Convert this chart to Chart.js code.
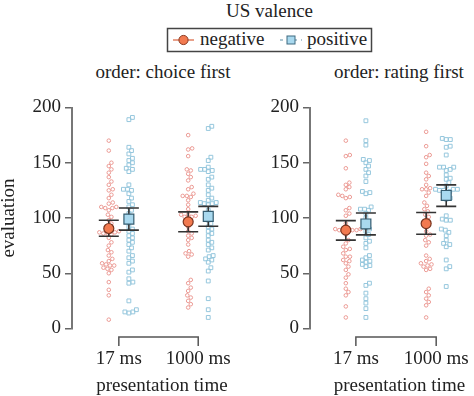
<!DOCTYPE html>
<html>
<head>
<meta charset="utf-8">
<script src="https://cdn.jsdelivr.net/npm/chart.js@4.4.0/dist/chart.umd.min.js"></script>
<style>
  body { margin: 0; background: #fff; width: 474px; height: 396px; overflow: hidden; position: relative; }
  #head { position: absolute; left: 0; top: 0; }
  .panel { position: absolute; top: 90px; width: 260px; height: 306px; }
</style>
</head>
<body>
<svg id="head" width="474" height="90" font-family="Liberation Serif" font-size="19" fill="#222">
  <text x="269.5" y="17" text-anchor="middle">US valence</text>
  <rect x="167.5" y="28.5" width="204" height="23" fill="none" stroke="#444" stroke-width="1.5"/>
  <line x1="173" y1="40" x2="194" y2="40" stroke="#d9603c" stroke-width="1.2"/>
  <circle cx="183.5" cy="40" r="4.6" fill="#f27a50" stroke="#8a3a22" stroke-width="1"/>
  <text x="200" y="45">negative</text>
  <line x1="280" y1="40" x2="302" y2="40" stroke="#5e8fa6" stroke-width="1.2" stroke-dasharray="3,4"/>
  <rect x="287" y="36" width="8" height="8" fill="#a9d9ef" stroke="#3f6a80" stroke-width="1"/>
  <text x="307" y="45">positive</text>
  <text x="163" y="78" text-anchor="middle">order: choice first</text>
  <text x="399" y="78" text-anchor="middle">order: rating first</text>
</svg>
<div class="panel" style="left:0"><canvas id="choiceChart"></canvas></div>
<div class="panel" style="left:237px"><canvas id="ratingChart"></canvas></div>
<script>
const categories = ['17 ms', '1000 ms'];

// order: choice first
const choiceNeg17 = [170, 161, 150, 147, 144, 141, 137, 133, 130, 126, 125, 121, 118, 114, 113, 110, 110, 109, 109, 107, 103, 101, 98, 95, 92, 88, 87, 87, 86, 86, 85, 82, 78, 75, 71, 69, 66, 63, 61, 59, 58, 57, 57, 55, 54, 53, 50, 42, 35, 30, 8];
const choicePos17 = [191, 189, 164, 161, 158, 154, 152, 150, 148, 145, 144, 142, 130, 126, 126, 125, 122, 118, 115, 112, 110, 107, 104, 100, 96, 92, 90, 88, 86, 84, 82, 80, 78, 76, 73, 70, 66, 64, 61, 59, 53, 51, 45, 42, 41, 25, 17, 15, 14, 15];
const choiceNeg1000 = [175, 163, 162, 156, 144, 143, 140, 137, 134, 128, 126, 122, 120, 120, 119, 116, 112, 108, 103, 103, 102, 101, 101, 99, 92, 88, 86, 84, 82, 80, 76, 70, 68, 67, 65, 44, 41, 37, 34, 30, 28, 25, 22, 19];
const choicePos1000 = [183, 181, 155, 152, 146, 144, 144, 143, 142, 137, 135, 130, 127, 125, 121, 118, 116, 114, 114, 113, 113, 112, 107, 103, 98, 95, 92, 90, 88, 86, 84, 80, 78, 76, 73, 71, 66, 65, 63, 62, 60, 55, 52, 43, 27, 17, 10];
const choiceNegMean = [90.5, 96.5];
const choiceNegLo = [83.5, 87.5];
const choiceNegHi = [98, 105.5];
const choicePosMean = [99, 101.5];
const choicePosLo = [89, 92.5];
const choicePosHi = [109, 110.5];

// order: rating first
const ratingNeg17 = [170, 157, 156, 145, 132, 130, 128, 126, 121, 120, 119, 118, 109, 107, 104, 102, 95, 90, 90, 89, 89, 89, 88, 88, 85, 80, 77, 74, 72, 71, 68, 65, 65, 62, 61, 59, 56, 53, 49, 46, 41, 36, 33, 30, 20, 10];
const ratingPos17 = [188, 170, 166, 153, 152, 150, 147, 144, 141, 138, 133, 124, 123, 122, 110, 108, 108, 107, 104, 100, 97, 94, 90, 88, 85, 82, 79, 77, 73, 66, 64, 62, 61, 60, 58, 57, 56, 41, 39, 32, 27, 23, 18, 10];
const ratingNeg1000 = [178, 165, 157, 155, 149, 141, 138, 135, 130, 127, 126, 126, 123, 120, 114, 111, 108, 106, 103, 101, 98, 93, 88, 85, 84, 80, 78, 75, 66, 63, 61, 59, 58, 57, 56, 54, 53, 36, 33, 30, 27, 24, 21, 10];
const ratingPos1000 = [172, 171, 171, 165, 164, 157, 146, 146, 146, 144, 143, 139, 136, 135, 132, 129, 126, 126, 126, 125, 125, 124, 122, 118, 117, 102, 99, 98, 98, 90, 89, 87, 84, 80, 77, 76, 74, 62, 56, 54, 38];
const ratingNegMean = [89, 95];
const ratingNegLo = [80, 85.3];
const ratingNegHi = [97.6, 105];
const ratingPosMean = [94.6, 120.4];
const ratingPosLo = [84.7, 110.5];
const ratingPosHi = [104.5, 130];

const negColor = '#eb9a94';
const posColor = '#96c7dd';
const negFill = '#f27a50';
const posFill = '#a9d9ef';
const serif = 'Liberation Serif';

Chart.defaults.font.family = serif;
Chart.defaults.font.size = 19;
Chart.defaults.color = '#222';

// beeswarm: put each point as close to the centre as it can go without overlapping
function swarm(values, centre, pxPerX) {
  const pxPerY = 1.105, d = 4.3;
  const placed = [];
  return values.slice().sort((a, b) => a - b).map(v => {
    const y = v * pxPerY;
    const near = placed.filter(p => Math.abs(p.y - y) < d);
    const cands = [0];
    near.forEach(p => {
      const dx = Math.sqrt(d * d - (p.y - y) ** 2);
      cands.push(p.x + dx, p.x - dx);
    });
    cands.sort((a, b) => Math.abs(a) - Math.abs(b));
    const x = cands.find(c => near.every(p => (p.x - c) ** 2 + (p.y - y) ** 2 >= d * d - 0.01));
    placed.push({ x: x, y: y });
    return { x: centre + x / pxPerX, y: v };
  });
}

const errorBars = {
  id: 'errorBars',
  beforeDatasetDraw(chart, args) {
    const ds = chart.data.datasets[args.index];
    if (!ds.lo) return;
    const ctx = chart.ctx, xs = chart.scales.x, ys = chart.scales.y;
    ctx.save();
    ctx.strokeStyle = '#333';
    ctx.lineWidth = 1.6;
    ds.data.forEach((p, i) => {
      const x = xs.getPixelForValue(p.x);
      const lo = ys.getPixelForValue(ds.lo[i]);
      const hi = ys.getPixelForValue(ds.hi[i]);
      ctx.beginPath();
      ctx.moveTo(x, lo); ctx.lineTo(x, hi);
      ctx.moveTo(x - 10, lo); ctx.lineTo(x + 10, lo);
      ctx.moveTo(x - 10, hi); ctx.lineTo(x + 10, hi);
      ctx.stroke();
    });
    ctx.restore();
  }
};

const bracket = {
  id: 'bracket',
  afterDraw(chart) {
    const ctx = chart.ctx, xs = chart.scales.x;
    const y0 = chart.chartArea.bottom + 8.5;
    const x0 = xs.getPixelForValue(0), x1 = xs.getPixelForValue(1);
    ctx.save();
    ctx.strokeStyle = '#555';
    ctx.lineWidth = 1.5;
    ctx.beginPath();
    ctx.moveTo(x0, y0 + 9); ctx.lineTo(x0, y0); ctx.lineTo(x1, y0); ctx.lineTo(x1, y0 + 9);
    ctx.stroke();
    ctx.restore();
  }
};

function makePanel(id, neg, pos, negMean, negLo, negHi, posMean, posLo, posHi, xMin, xMax, pxPerX, axisWidth, showTitle) {
  const shift = 10.5 / pxPerX;
  const meanPts = [], lo = [], hi = [];
  for (let i = 0; i < categories.length; i++) {
    meanPts.push({ x: i - shift, y: negMean[i] }, { x: i + shift, y: posMean[i] });
    lo.push(negLo[i], posLo[i]);
    hi.push(negHi[i], posHi[i]);
  }
  const datasets = [{
    label: 'means',
    data: meanPts,
    lo: lo,
    hi: hi,
    order: 0,
    pointStyle: ['circle', 'rect', 'circle', 'rect'],
    pointRadius: [5, 7, 5, 7],
    backgroundColor: [negFill, posFill, negFill, posFill],
    borderColor: ['#7a3520', '#355c70', '#7a3520', '#355c70'],
    borderWidth: 1.2
  }];
  for (let i = 0; i < categories.length; i++) {
    datasets.push({
      label: 'negative',
      data: swarm(neg[i], i - shift, pxPerX),
      order: 1,
      pointStyle: 'circle',
      pointRadius: 1.8,
      backgroundColor: 'rgba(255,255,255,0)',
      borderColor: negColor,
      borderWidth: 1
    }, {
      label: 'positive',
      data: swarm(pos[i], i + shift, pxPerX),
      order: 1,
      pointStyle: 'rect',
      pointRadius: 2.7,
      backgroundColor: 'rgba(255,255,255,0)',
      borderColor: posColor,
      borderWidth: 1
    });
  }
  return new Chart(document.getElementById(id), {
    type: 'scatter',
    data: { datasets: datasets },
    plugins: [errorBars, bracket],
    options: {
      responsive: true,
      maintainAspectRatio: false,
      animation: false,
      layout: { padding: { top: 17.5, right: 0, bottom: 0, left: 0 } },
      plugins: { legend: { display: false }, tooltip: { enabled: false } },
      scales: {
        x: {
          type: 'linear',
          min: xMin,
          max: xMax,
          afterBuildTicks: s => { s.ticks = categories.map((c, i) => ({ value: i })); },
          afterFit: s => { s.height = 67.5; },
          ticks: {
            callback: v => categories[v],
            autoSkip: false,
            maxRotation: 0,
            padding: 21,
            color: '#222',
            font: { family: serif, size: 19, lineHeight: 1 }
          },
          grid: { display: false, drawTicks: false },
          border: { display: false },
          title: {
            display: true,
            text: 'presentation time',
            color: '#222',
            padding: 0,
            font: { family: serif, size: 19, lineHeight: 1 }
          }
        },
        y: {
          min: 0,
          max: 200,
          afterFit: s => { s.width = axisWidth; },
          ticks: {
            stepSize: 50,
            padding: 4,
            color: '#222',
            font: { family: serif, size: 19, lineHeight: 1 }
          },
          grid: { drawOnChartArea: false, drawTicks: true, tickLength: 7, color: '#666', lineWidth: 1.5 },
          border: { display: true, color: '#777', width: 2 },
          title: {
            display: showTitle,
            text: 'evaluation',
            color: '#222',
            padding: 0,
            font: { family: serif, size: 19, lineHeight: 1 }
          }
        }
      }
    }
  });
}

makePanel('choiceChart',
  [choiceNeg17, choiceNeg1000], [choicePos17, choicePos1000],
  choiceNegMean, choiceNegLo, choiceNegHi, choicePosMean, choicePosLo, choicePosHi,
  -0.590, 1.675, 83, 72, true);

makePanel('ratingChart',
  [ratingNeg17, ratingNeg1000], [ratingPos17, ratingPos1000],
  ratingNegMean, ratingNegLo, ratingNegHi, ratingPosMean, ratingPosLo, ratingPosHi,
  -0.571, 1.655, 84, 73, false);
</script>
</body>
</html>
